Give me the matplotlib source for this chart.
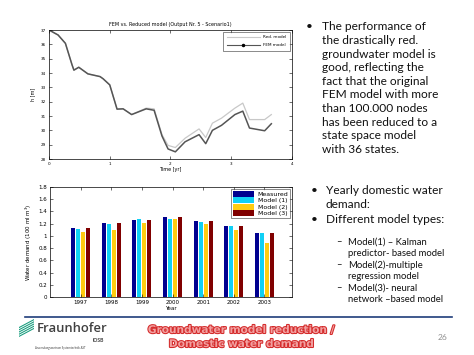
import numpy as np
import matplotlib
matplotlib.use('Agg')
import matplotlib.pyplot as plt
import matplotlib.patheffects as pe
from matplotlib.lines import Line2D

# ---- groundwater model data ----
t_fem = [0.0, 0.15, 0.27, 0.38, 0.41, 0.49, 0.64, 0.84, 0.89, 1.0, 1.12, 1.22,
         1.36, 1.6, 1.73, 1.86, 1.96, 2.08, 2.24, 2.47, 2.58, 2.69, 2.84, 3.06,
         3.19, 3.3, 3.55, 3.66]
h_fem = [37.0, 36.65, 36.07, 34.56, 34.2, 34.4, 33.94, 33.75, 33.6, 33.17, 31.48,
         31.5, 31.1, 31.5, 31.4, 29.6, 28.7, 28.5, 29.2, 29.7, 29.07, 30.0, 30.35,
         31.1, 31.34, 30.16, 29.97, 30.46]
h_red = [37.0, 36.65, 36.07, 34.56, 34.2, 34.4, 33.94, 33.75, 33.6, 33.17, 31.48,
         31.5, 31.1, 31.55, 31.5, 29.7, 28.95, 28.8, 29.45, 30.1, 29.5, 30.5, 30.85,
         31.55, 31.9, 30.75, 30.75, 31.1]

# ---- water demand data ----
years = [1997, 1998, 1999, 2000, 2001, 2002, 2003]
measured = [1.13, 1.21, 1.26, 1.31, 1.24, 1.17, 1.05]
model1 = [1.11, 1.20, 1.27, 1.28, 1.22, 1.16, 1.05]
model2 = [1.07, 1.10, 1.21, 1.28, 1.20, 1.10, 0.89]
model3 = [1.13, 1.21, 1.26, 1.31, 1.24, 1.17, 1.05]
bar_labels = ['Measured', 'Model (1)', 'Model (2)', 'Model (3)']
bar_colors = ['#00008F', '#10D0F5', '#FFCC10', '#800000']

W, H = 474, 355
fig = plt.figure(figsize=(W / 100, H / 100), dpi=100)


def box(x0, y0, x1, y1):
    # pixel box -> figure fraction rect
    return [x0 / W, 1 - y1 / H, (x1 - x0) / W, (y1 - y0) / H]


def px(x, y):
    return x / W, 1 - y / H


def matlab_ticks(ax, size):
    ax.tick_params(direction='in', top=True, right=True, length=2,
                   width=0.4, labelsize=size, pad=2)
    for s in ax.spines.values():
        s.set_linewidth(0.5)


#%% top chart: FEM vs reduced model
ax1 = fig.add_axes(box(49, 30, 292, 159))
ax1.plot(t_fem, h_red, color='#C8C8C8', lw=0.9)
ax1.plot(t_fem, h_fem, color='#555555', lw=1.1)
ax1.set_xlim(0, 4)
ax1.set_ylim(28, 37)
ax1.set_xticks([0, 1, 2, 3, 4])
ax1.set_yticks(range(28, 38))
matlab_ticks(ax1, 3)
ax1.set_title('FEM vs. Reduced model (Output Nr. 5 - Scenario1)', fontsize=3.5, pad=3)
ax1.set_xlabel('Time [yr]', fontsize=3.5, labelpad=1)
ax1.set_ylabel('h [m]', fontsize=3.5, labelpad=4)
handles = [Line2D([], [], color='#C8C8C8', lw=0.8),
           Line2D([], [], color='#555555', lw=0.8, marker='.', markersize=3,
                  markerfacecolor='black', markeredgecolor='black')]
leg1 = ax1.legend(handles, ['Red. model', 'FEM model'], loc='upper right',
                  fontsize=3, handlelength=8, frameon=True, fancybox=False,
                  edgecolor='black', borderpad=0.8, labelspacing=0.9,
                  markerfirst=True)
leg1.get_frame().set_linewidth(0.4)

#%% bottom chart: yearly water demand
ax2 = fig.add_axes(box(50, 187, 292, 297))
x = np.array(years, dtype=float)
bw = 0.13
series = [measured, model1, model2, model3]
for i, vals in enumerate(series):
    ax2.bar(x + (i - 1.5) * 0.165, vals, width=bw, color=bar_colors[i],
            label=bar_labels[i])
ax2.set_xlim(1996, 2003.9)
ax2.set_ylim(0, 1.8)
ax2.set_xticks(years)
ax2.set_yticks(np.arange(0, 1.81, 0.2))
ax2.set_yticklabels(['0', '0.2', '0.4', '0.6', '0.8', '1', '1.2', '1.4', '1.6', '1.8'])
matlab_ticks(ax2, 4)
ax2.set_xlabel('Year', fontsize=4, labelpad=1)
ax2.set_ylabel('Water demand (100 ml m$^3$)', fontsize=4, labelpad=3)
leg2 = ax2.legend(loc='upper right', fontsize=4.5, handlelength=3.4, handleheight=1.1,
                  frameon=True, fancybox=False, edgecolor='black',
                  borderpad=0.3, labelspacing=0.05, handletextpad=0.6,
                  borderaxespad=0.3)
leg2.get_frame().set_linewidth(0.4)

#%% slide text on the right
fam = ['Lato', 'DejaVu Sans']
ink = '#111111'
top_lines = ['The performance of', 'the drastically red.', 'groundwater model is',
             'good, reflecting the', 'fact that the original', 'FEM model with more',
             'than 100.000 nodes', 'has been reduced to a', 'state space model',
             'with 36 states.']
for k, line in enumerate(top_lines):
    fig.text(*px(322, 27 + k * 13.6), line, fontsize=8.6, family=fam,
             va='center', ha='left', color=ink)
fig.text(*px(306, 27), '\u2022', fontsize=8.6, family=fam, va='center', color=ink)

fig.text(*px(311, 191), '\u2022', fontsize=8.6, family=fam, va='center', color=ink)
fig.text(*px(326, 191), 'Yearly domestic water', fontsize=8.6, family=fam, va='center', color=ink)
fig.text(*px(326, 204), 'demand:', fontsize=8.6, family=fam, va='center', color=ink)
fig.text(*px(311, 220), '\u2022', fontsize=8.6, family=fam, va='center', color=ink)
fig.text(*px(326, 220), 'Different model types:', fontsize=8.6, family=fam, va='center', color=ink)

sub_lines = [('Model(1) \u2013 Kalman', True), ('predictor- based model', False),
             ('Model(2)-multiple', True), ('regression model', False),
             ('Model(3)- neural', True), ('network \u2013based model', False)]
for k, (line, dash) in enumerate(sub_lines):
    yy = 242 + k * 11.4
    if dash:
        fig.text(*px(336, yy), '\u2013', fontsize=6.8, family=fam, va='center', color=ink)
    fig.text(*px(348, yy), line, fontsize=6.8, family=fam, va='center', color=ink)

#%% footer
fig.add_artist(Line2D([25 / W, 452 / W], [1 - 317 / H, 1 - 317 / H],
                      color='#1F3D7A', lw=1.2, transform=fig.transFigure))

# Fraunhofer logo stripes
for s in range(5):
    y0 = 319 + s * 2.2
    fig.add_artist(plt.Polygon([px(19, y0 + 8), px(34, y0), px(34, y0 + 1.2),
                                px(19, y0 + 9.2)], closed=True,
                               color='#179C7D', transform=fig.transFigure, lw=0))
fig.text(*px(37, 328), 'Fraunhofer', fontsize=9.4, family=['Open Sans', 'DejaVu Sans'],
         weight='semibold', va='center', color='#404040')
fig.text(*px(104, 340), 'IOSB', fontsize=3.6, family=fam, weight='bold',
         ha='right', va='center', color='#404040')
fig.text(*px(60, 348), 'Anwendungszentrum Systemtechnik AST', fontsize=2,
         family=fam, ha='center', va='center', color='#404040')

for k, line in enumerate(['Groundwater model reduction /', 'Domestic water demand']):
    fig.text(*px(241, 330 + k * 14), line, fontsize=7.6,
             family=['DejaVu Sans'], weight='bold', ha='center', va='center',
             color='#F2A0A0',
             path_effects=[pe.withStroke(linewidth=1.5, foreground='#D42A2A')])

fig.text(*px(443, 338), '26', fontsize=6, family=fam, ha='center', va='center',
         color='#909090')

plt.savefig('out.png', dpi=100)
